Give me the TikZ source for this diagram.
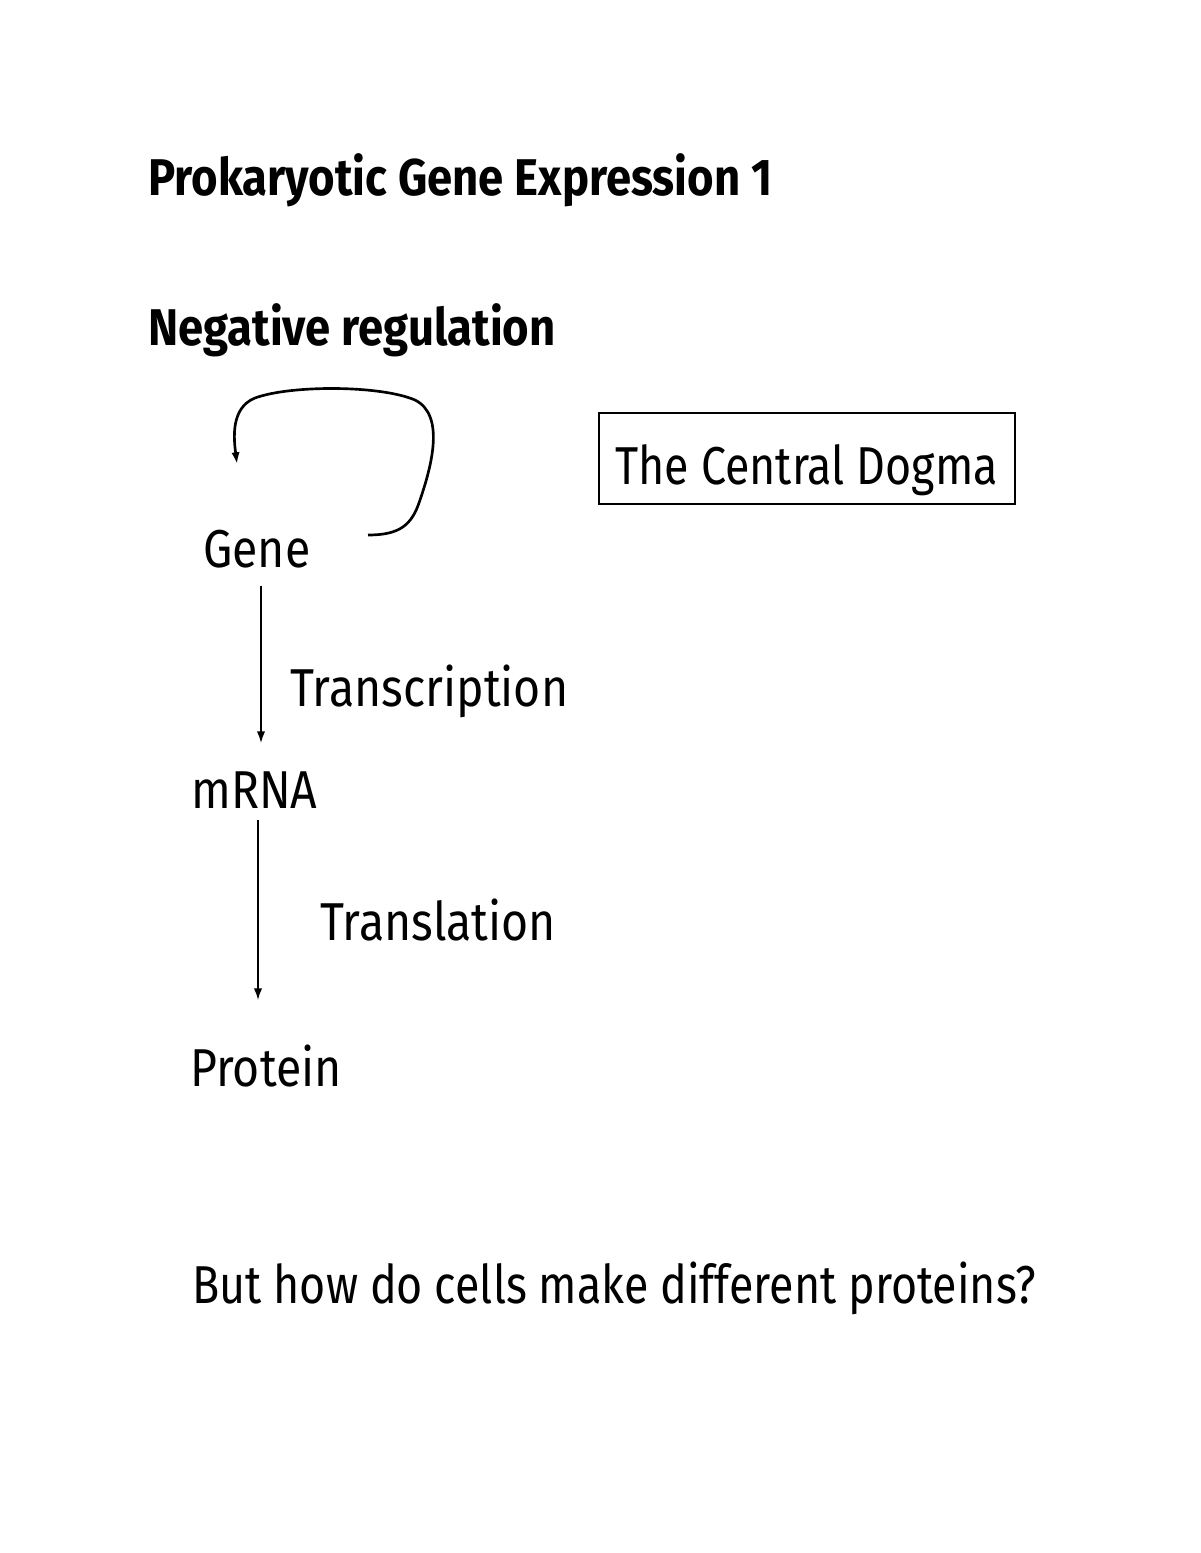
\documentclass[tikz,border=0pt]{standalone}
\usepackage{fontspec}
\usetikzlibrary{arrows.meta}
\newfontfamily\hand[FakeStretch=0.87]{Fira Sans}
\newfontfamily\handn[FakeStretch=0.84]{Fira Sans}
\newfontfamily\handb[FakeStretch=0.88]{Fira Sans}
\begin{document}
\begin{tikzpicture}[x=0.6pt,y=-0.6pt,
  lab/.style={anchor=base west,inner sep=0pt,font=\hand\fontsize{32}{36}\selectfont},
  labn/.style={anchor=base west,inner sep=0pt,font=\handn\fontsize{32}{36}\selectfont},
  ttl/.style={anchor=base west,inner sep=0pt,font=\handb\bfseries\fontsize{31}{36}\selectfont},
  arr/.style={-{Latex[length=7pt,width=5pt]},line width=0.9pt}]
\useasboundingbox (0,0) rectangle (1200,1553);
\node[ttl] (t1) at (148,195) {Prokaryotic Gene Expression 1};
\node[ttl] (t2) at (148,345) {Negative regulation};
\draw[line width=1.2pt] (599,413) rectangle (1015,504);
\node[labn] (dog) at (615,484) {The Central Dogma};
\node[lab] (gene) at (203,567) {Gene};
\node[lab] (tsc) at (290,706) {Transcription};
\node[lab] (mrna) at (191,808) {mRNA};
\node[lab] (tsl) at (320,940) {Translation};
\node[lab] (prot) at (190,1086) {Protein};
\node[labn] (q) at (192,1303) {But how do cells make different proteins?};
\coordinate (a1) at (261,586); \coordinate (b1) at (261,743);
\coordinate (a2) at (258,820); \coordinate (b2) at (258,1000);
\draw[arr] (a1) -- (b1);
\draw[arr] (a2) -- (b2);
\coordinate (c0) at (368,535); \coordinate (c1) at (237,464);
\draw[arr,line width=1.6pt] (c0) .. controls (400,535) and (412,525) .. (420,500)
  .. controls (432,465) and (445,415) .. (415,400)
  .. controls (380,385) and (290,385) .. (255,398)
  .. controls (230,408) and (234,440) .. (c1);
\end{tikzpicture}
\end{document}
